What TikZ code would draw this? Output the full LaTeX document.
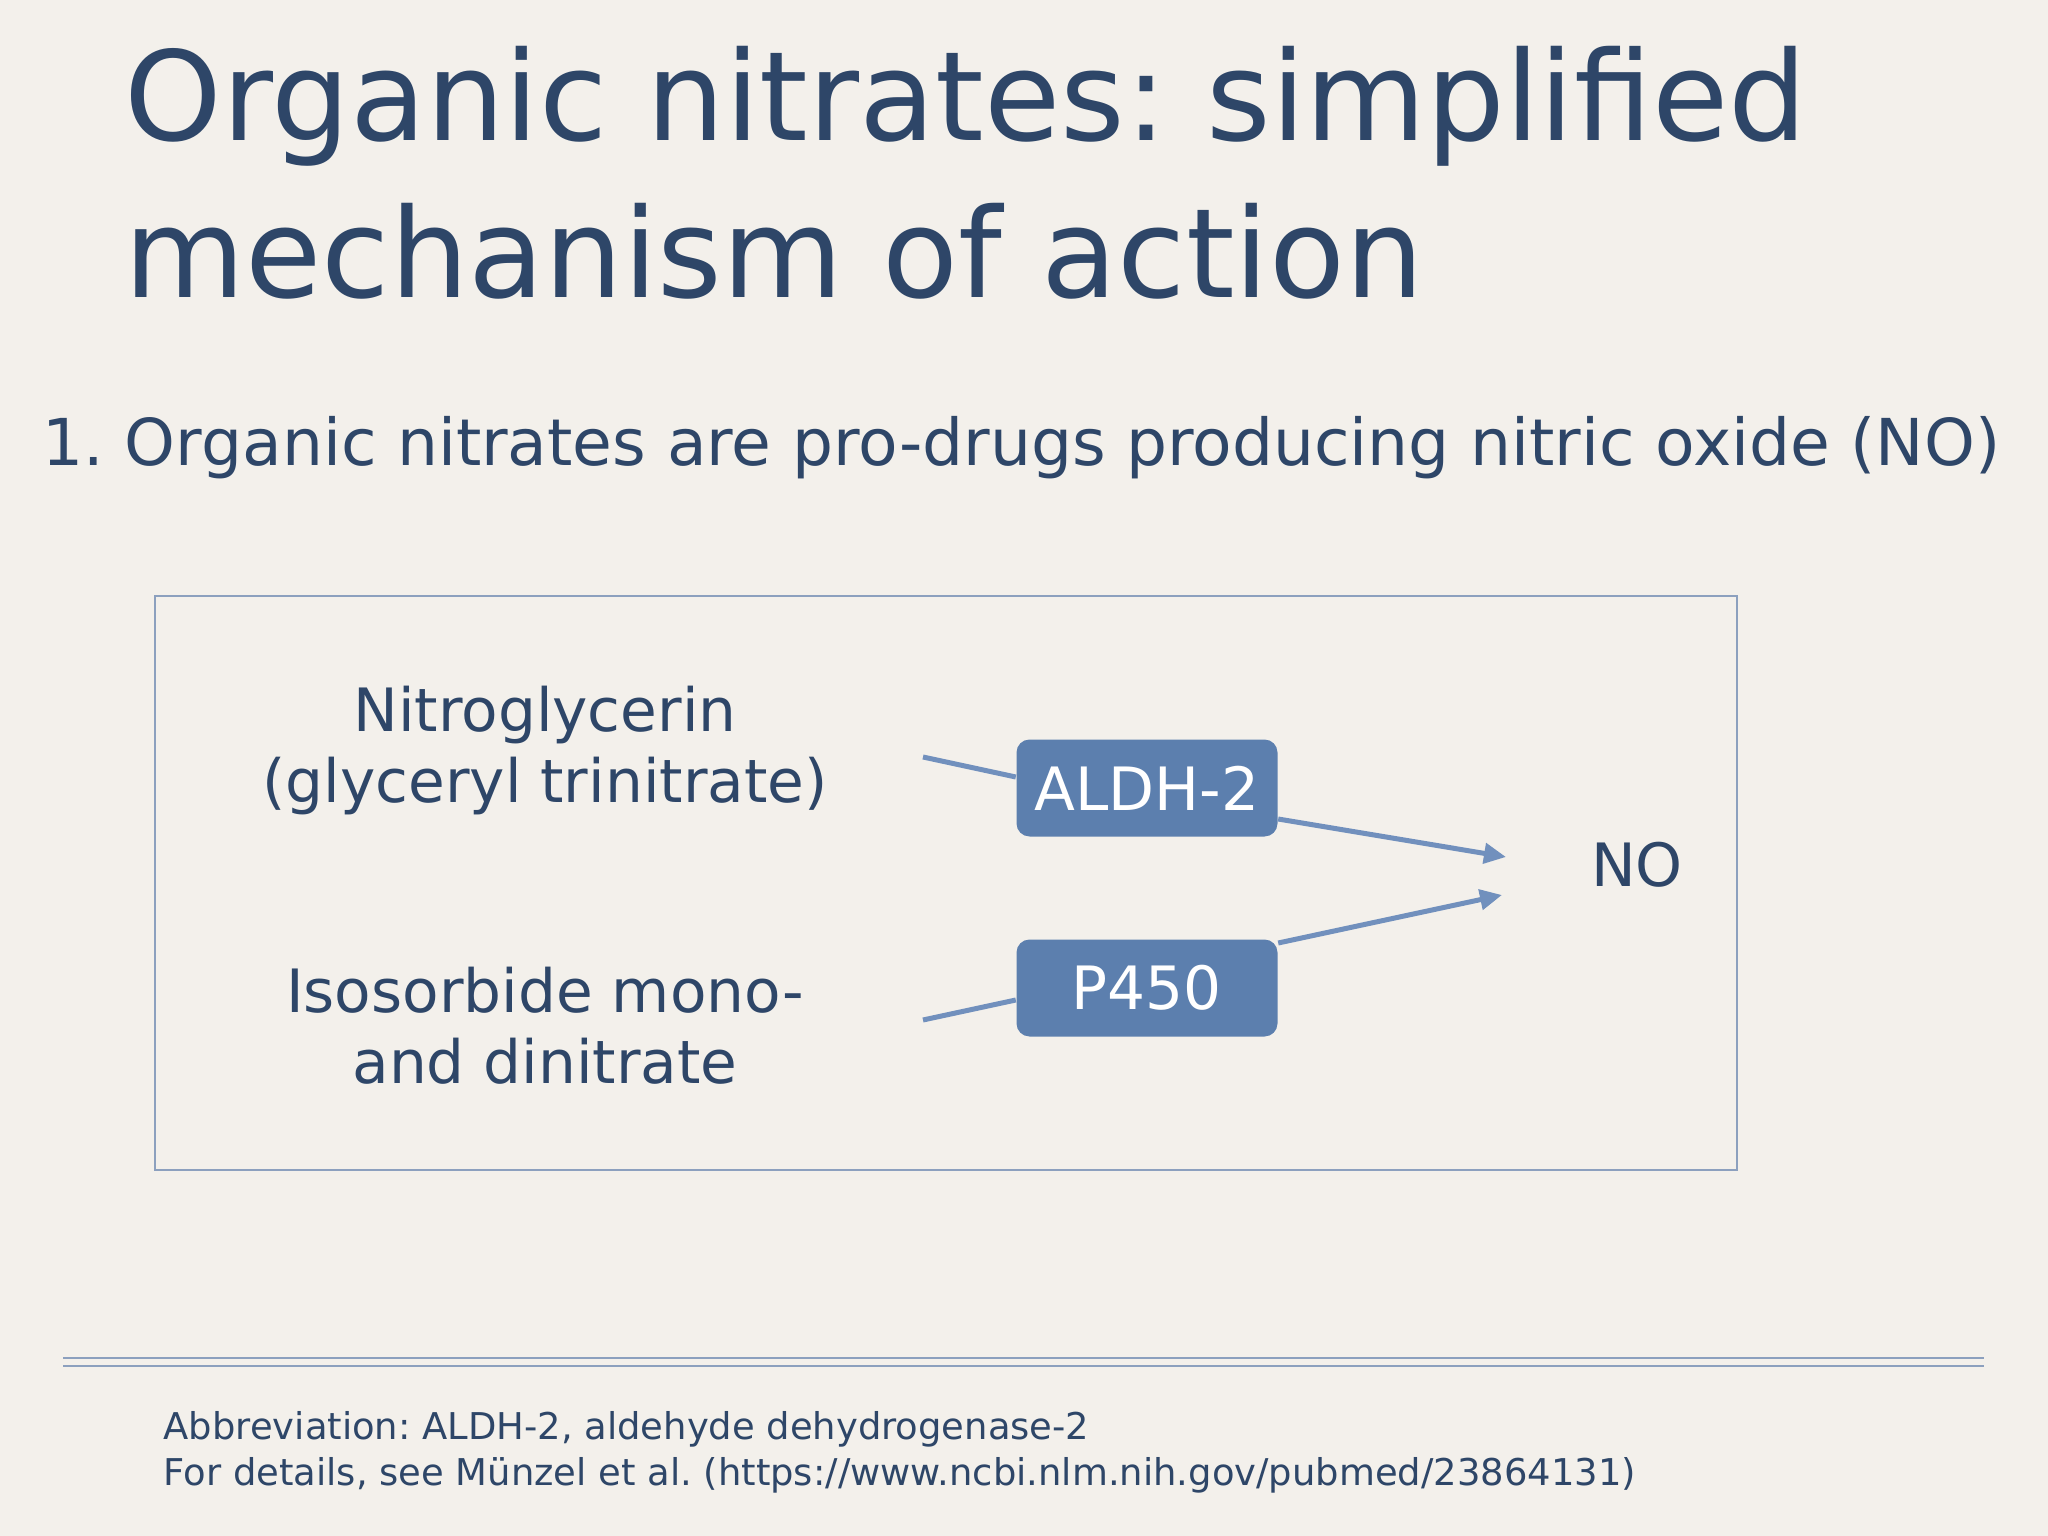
\documentclass[tikz,border=0pt]{standalone}
\usepackage{fontspec}
\setmainfont{DejaVu Sans}
\usetikzlibrary{arrows.meta}
\definecolor{paper}{RGB}{243,240,235}
\definecolor{inkblue}{RGB}{46,70,104}
\definecolor{boxblue}{RGB}{92,127,174}
\definecolor{arrowblue}{RGB}{113,144,189}
\definecolor{framegray}{RGB}{140,160,190}
\frenchspacing

\begin{document}
\begin{tikzpicture}[
  txt/.style={text=inkblue, inner sep=0pt},
  label/.style={txt, align=center, font=\fontsize{17}{20.2}\selectfont},
  enzyme/.style={fill=boxblue, rounded corners=0.13cm, minimum width=2.61cm,
    minimum height=0.97cm, text=white, inner sep=0pt,
    font=\fontsize{17}{20}\selectfont},
  conn/.style={arrowblue, line width=0.05cm},
  ]
\fill[paper] (0,0) rectangle (20.48,-15.36);
\useasboundingbox (0,0) rectangle (20.48,-15.36);

% Title
\node[txt, anchor=base west, font=\fontsize{35.3}{44}\selectfont] (title1) at (1.24,-1.41) {Organic nitrates: simplified};
\node[txt, anchor=base west, font=\fontsize{35.3}{44}\selectfont] (title2) at (1.24,-2.98) {mechanism of action};

% First point
\node[txt, anchor=base west, font=\fontsize{18.4}{22}\selectfont] (point) at (0.42,-4.66) {1. Organic nitrates are pro-drugs producing nitric oxide (NO)};

% Frame round the scheme
\draw[framegray, line width=0.45pt] (1.55,-5.96) rectangle (17.37,-11.70);

% Drugs, enzymes and product (base = last line)
\node[label, anchor=base] (nitro) at (5.45,-8.02) {Nitroglycerin\\(glyceryl trinitrate)};
\node[label, anchor=base] (iso) at (5.45,-10.83) {Isosorbide mono-\\and dinitrate};
\node[enzyme] (aldh) at (11.47,-7.88) {ALDH-2};
\node[enzyme] (p450) at (11.47,-9.88) {P450};
\node[txt, anchor=base, font=\fontsize{17}{20}\selectfont] (no) at (16.37,-8.86) {NO};

\coordinate (nitroOut) at (9.23,-7.57);
\coordinate (isoOut) at (9.23,-10.20);
\coordinate (tipA) at (15.06,-8.57);
\coordinate (tipB) at (15.02,-8.95);

\draw[conn] (nitroOut) -- ([yshift=0.11cm]aldh.west);
\draw[conn, -{Triangle[length=0.22cm,width=0.2cm]}] ([yshift=-0.31cm]aldh.east) -- (tipA);
\draw[conn] (isoOut) -- ([yshift=-0.12cm]p450.west);
\draw[conn, -{Triangle[length=0.22cm,width=0.2cm]}] ([yshift=0.45cm]p450.east) -- (tipB);

% Footer
\draw[framegray, line width=0.6pt] (0.63,-13.58) -- (19.84,-13.58);
\draw[framegray, line width=0.6pt] (0.63,-13.66) -- (19.84,-13.66);
\node[txt, anchor=base west, font=\fontsize{10.5}{13}\selectfont] (abbr) at (1.63,-14.39) {Abbreviation: ALDH-2, aldehyde dehydrogenase-2};
\node[txt, anchor=base west, font=\fontsize{10.5}{13}\selectfont] (ref) at (1.63,-14.85) {For details, see Münzel et al. (https://www.ncbi.nlm.nih.gov/pubmed/23864131)};
\end{tikzpicture}
\end{document}
